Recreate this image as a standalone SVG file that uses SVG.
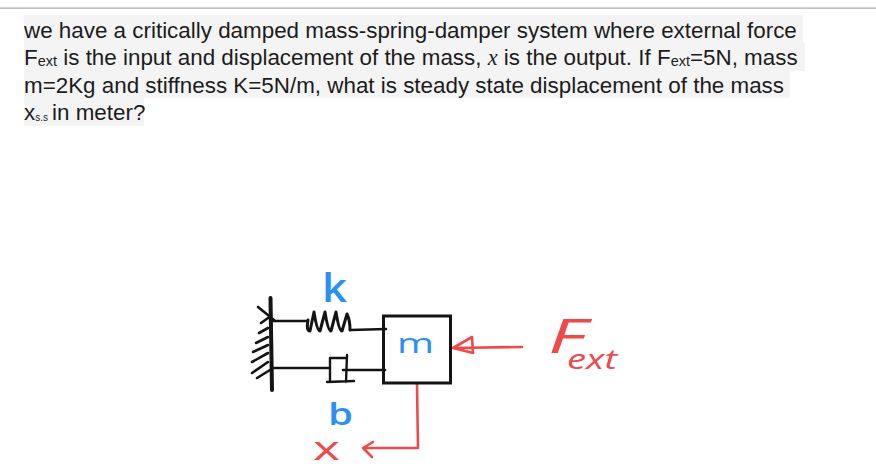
<svg xmlns="http://www.w3.org/2000/svg" width="876" height="471" viewBox="0 0 876 471">
<style>
.q{font-family:"Liberation Sans",Arial,sans-serif;font-size:22.4px;fill:#1c1c1c}
.s{font-size:14.500px}
.hl{fill:#f4f4f5}
.ink{fill:none;stroke:#141414;stroke-linecap:round;stroke-linejoin:round}
.red{fill:none;stroke:#f0494a;stroke-width:2.6;stroke-linecap:round;stroke-linejoin:round}
.hw{font-family:"Open Sans","DejaVu Sans",sans-serif}
.blue{fill:#2a90f4}
.rt{fill:#f0494a}
</style>
<rect width="876" height="471" fill="#fff"/>
<rect x="0" y="7.500" width="876" height="1.200" fill="#a9a9a9"/>
<g id="question">
<rect class="hl" x="24" y="15" width="779" height="28"/>
<rect class="hl" x="24" y="43" width="781" height="28"/>
<rect class="hl" x="24" y="71" width="766" height="27"/>
<rect class="hl" x="24" y="98" width="120" height="28"/>
<text class="q" x="24" y="37.500">we have a critically damped mass-spring-damper system where external force</text>
<text class="q" x="24" y="65">F<tspan class="s" dy="1">ext</tspan><tspan dy="-1"> is the input and displacement of the mass, </tspan><tspan font-family="Liberation Serif" font-style="italic">x</tspan> is the output. If F<tspan class="s" dy="1">ext</tspan><tspan dy="-1">=5N, mass</tspan></text>
<text class="q" x="24" y="92.500">m=2Kg and stiffness K=5N/m, what is steady state displacement of the mass</text>
<text class="q" x="24" y="120">x<tspan font-size="10" dy="1">s.s</tspan><tspan dy="-1" x="52">in meter?</tspan></text>
</g>
<g id="wall">
<path class="ink" stroke-width="4" d="M270.500 298L272 390"/>
<path class="ink" stroke-width="2.600" d="M258 307L274 320M261 323L268 318M259 333L268 328M256 343L268 337M253 352L268 345M252 362L268 353M252 373L268 362M257 378L270 370"/>
</g>
<g id="connectors">
<path class="ink" stroke-width="2.400" d="M272 321L307 321"/>
<path class="ink" stroke-width="2.400" d="M351 330L386 329"/>
<path class="ink" stroke-width="2.400" d="M272 368L330 368"/>
<path class="ink" stroke-width="2.600" d="M343 370L385 370"/>
<path class="red" d="M417 384L418 448L363 448M373 442L363 448L372 457"/>
<path class="red" d="M522 347L453 348M472 337L453 348L473 353Z"/>
</g>
<g id="spring-k">
<path class="ink" stroke-width="3" d="M308 320Q306 331 310 331L314 312Q317 331 320 331L325 312Q328 331 331 331L336 312Q339 331 342 331L347 314Q350 320 350 330"/>
<text class="hw blue" x="322" y="302" font-size="40" font-weight="600" textLength="25" lengthAdjust="spacingAndGlyphs">k</text>
</g>
<g id="damper-b">
<path class="ink" stroke-width="2.400" d="M345 358L330 358L330 381M327 382L354 381M347 355L346 382"/>
<text class="hw blue" x="328" y="425" font-size="31" font-weight="600" textLength="25" lengthAdjust="spacingAndGlyphs">b</text>
</g>
<g id="mass-m">
<rect x="383.500" y="316" width="67" height="67" fill="none" stroke="#141414" stroke-width="3"/>
<text class="hw blue" x="397" y="353" font-size="28" textLength="37" lengthAdjust="spacingAndGlyphs">m</text>
</g>
<g id="output-x">
<text class="hw rt" x="313" y="460" font-size="32" textLength="27" lengthAdjust="spacingAndGlyphs">x</text>
</g>
<g id="force-ext">
<text class="hw rt" x="548" y="353" font-size="48" font-style="italic" textLength="38" lengthAdjust="spacingAndGlyphs">F</text>
<text class="hw rt" x="567" y="369" font-size="27" font-style="italic" textLength="50" lengthAdjust="spacingAndGlyphs">ext</text>
</g>
</svg>
